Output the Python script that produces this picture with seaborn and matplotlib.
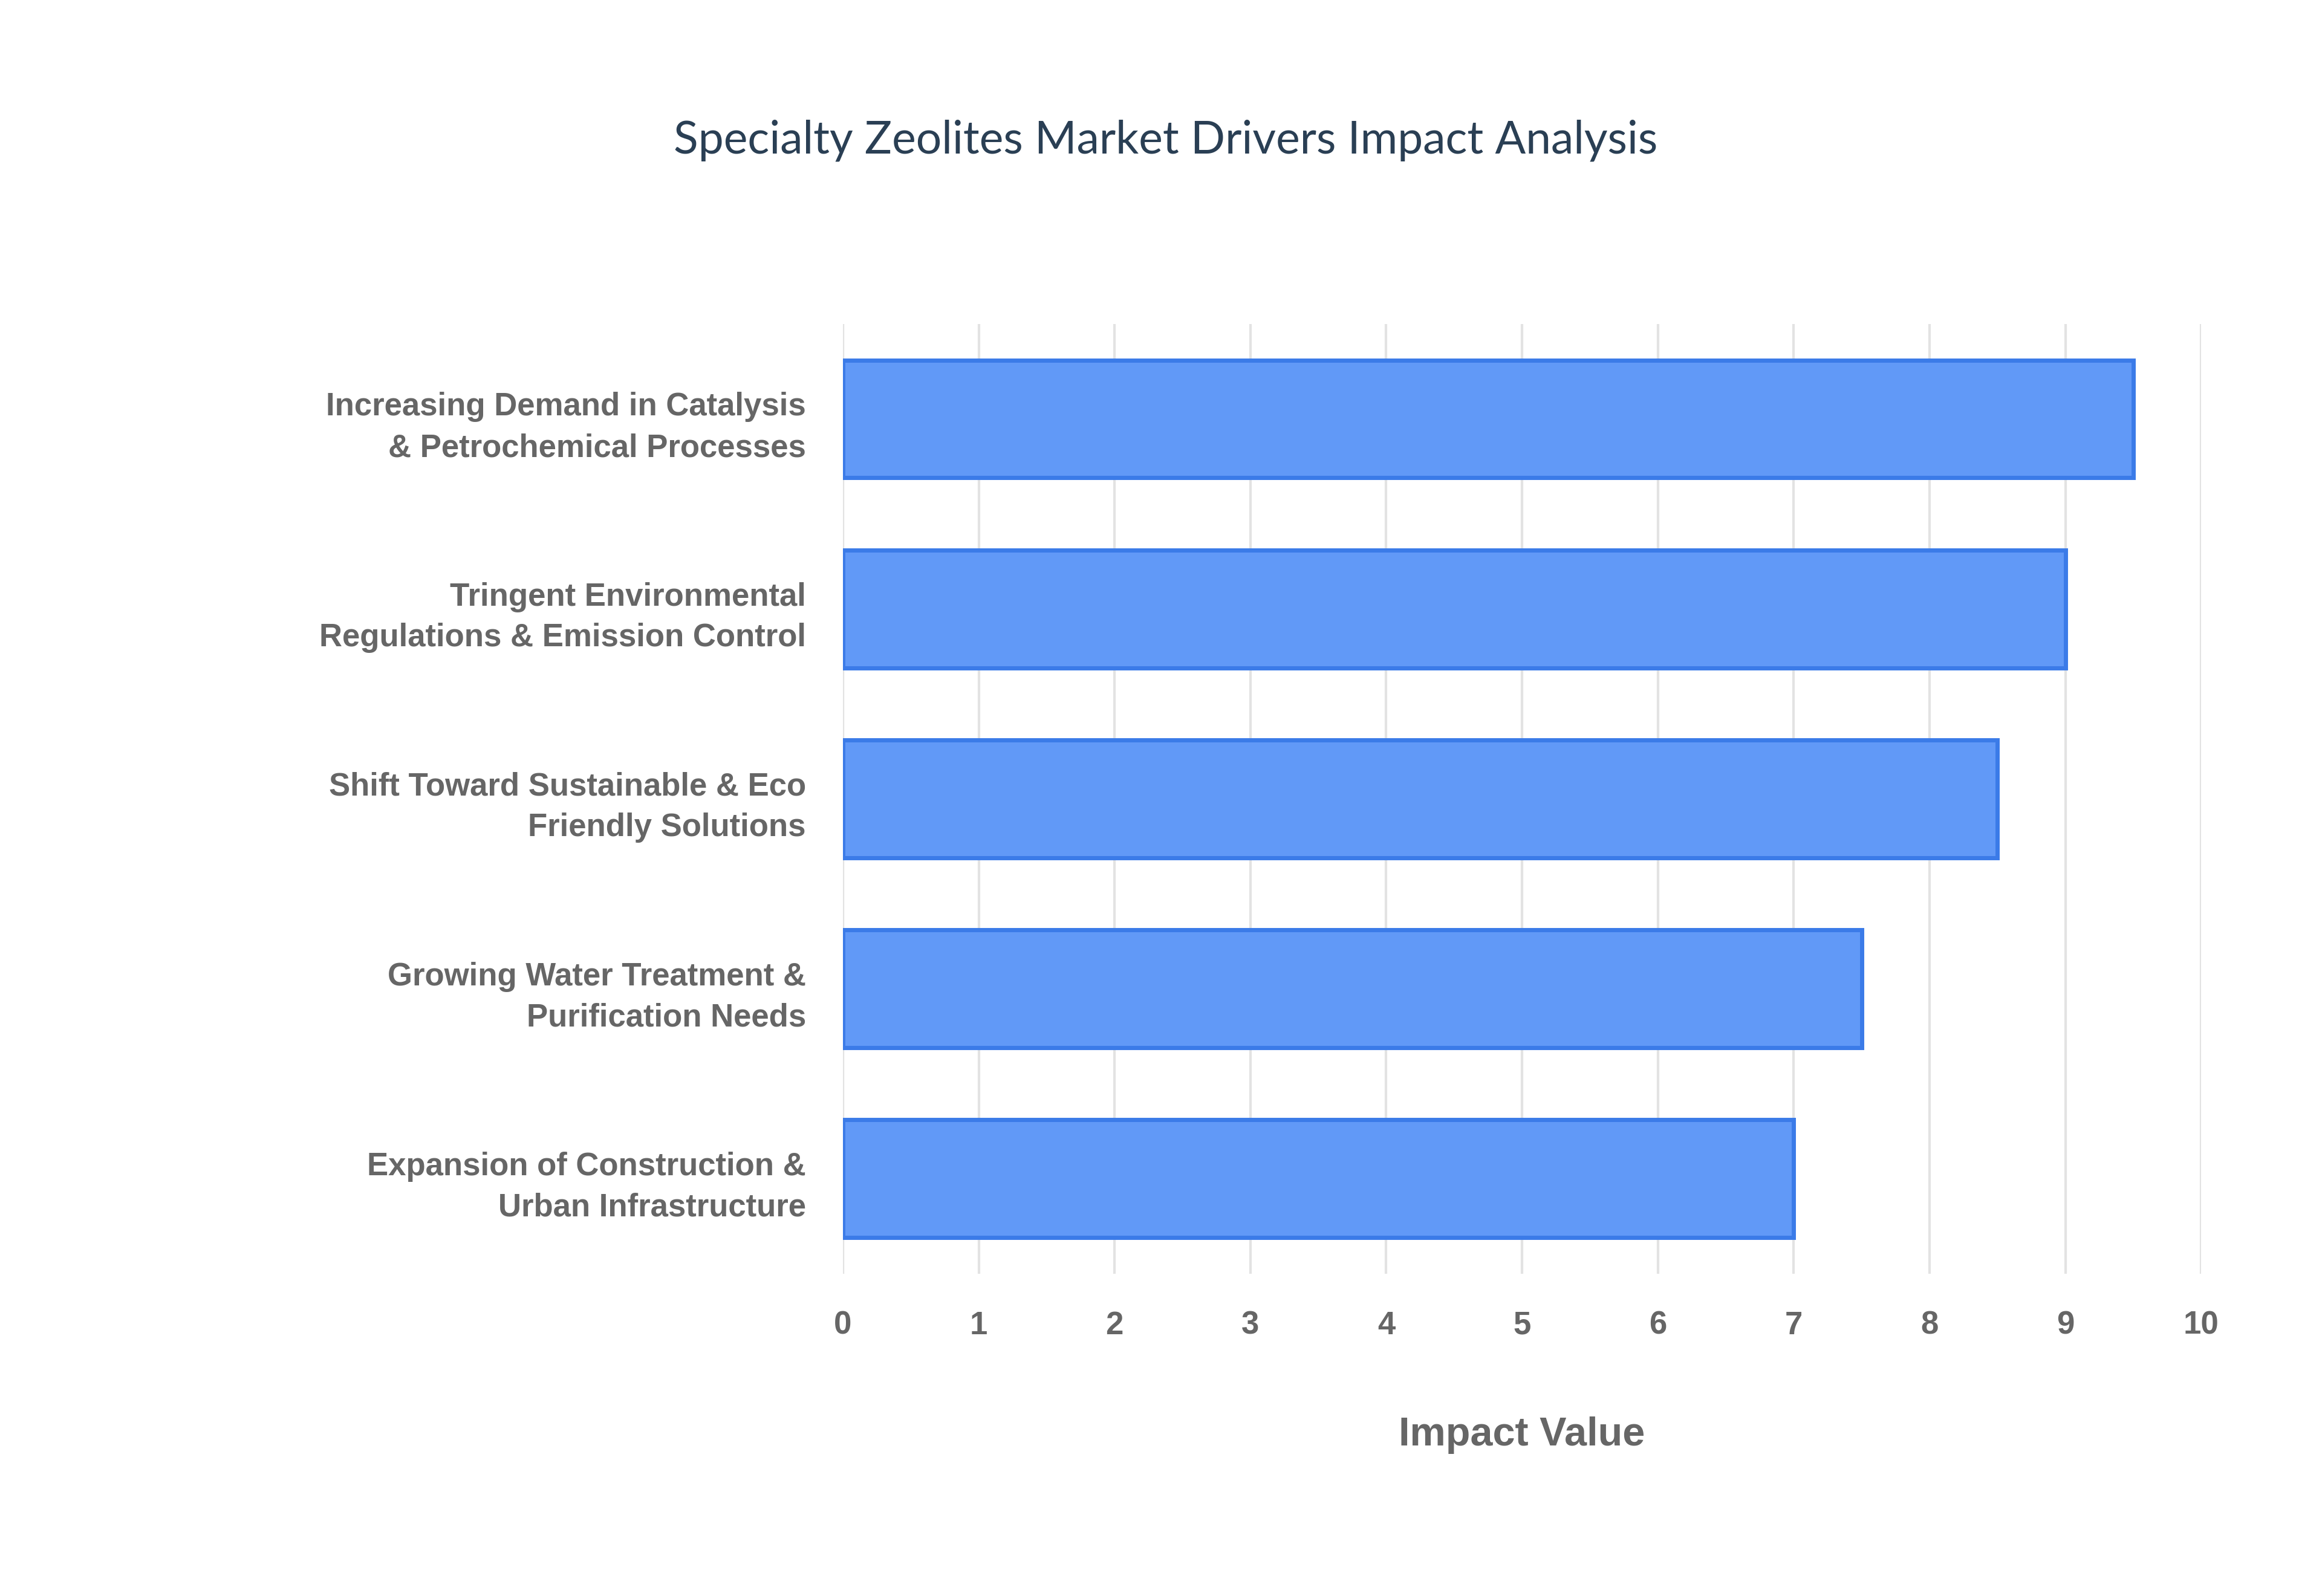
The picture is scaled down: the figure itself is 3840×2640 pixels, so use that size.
import matplotlib
matplotlib.use("Agg")
import matplotlib.pyplot as plt
import seaborn as sns
import pandas as pd

drivers = ["Increasing Demand in Catalysis\n& Petrochemical Processes",
           "Tringent Environmental\nRegulations & Emission Control",
           "Shift Toward Sustainable & Eco\nFriendly Solutions",
           "Growing Water Treatment &\nPurification Needs",
           "Expansion of Construction &\nUrban Infrastructure"]
impact = [9.5, 9.0, 8.5, 7.5, 7.0]
df = pd.DataFrame({"Drivers": drivers, "Impact": impact})

sns.set_theme(style="white")
plt.rcParams['font.family'] = ['Liberation Sans', 'DejaVu Sans']
fig = plt.figure(figsize=(19.2, 13.2), dpi=200)
ax = fig.add_axes([0.363, 0.202, 0.585, 0.595])
sns.barplot(data=df, x="Impact", y="Drivers", orient="h", color="#6199f7", saturation=1,
            width=0.62, edgecolor="#3b7be8", linewidth=2.5, ax=ax)
ax.set_xlim(0, 10)
ax.set_xticks(range(0, 11))
ax.grid(axis="x", color="#e3e3e3", linewidth=1.5)
ax.set_axisbelow(True)
for s in ax.spines.values():
    s.set_visible(False)
ax.axvline(0, color="#dddddd", linewidth=1.5, zorder=0)
ax.tick_params(axis="both", length=0, labelsize=19, labelcolor="#666666", pad=22)
for t in ax.get_xticklabels() + ax.get_yticklabels():
    t.set_fontweight("bold")
    t.set_linespacing(1.45)
ax.set_xlabel("Impact Value", fontsize=24, fontweight="bold", color="#666666", labelpad=45)
ax.set_ylabel("Drivers", fontsize=24, fontweight="bold", color="#666666")
ax.yaxis.set_label_coords(-0.82, 0.5)
fig.text(0.502, 0.912, "Specialty Zeolites Market Drivers Impact Analysis",
         ha="center", va="center", fontsize=27, color="#2a3f54", family=["Lato", "DejaVu Sans"])
fig.savefig("out.png", dpi=200, facecolor="white")
